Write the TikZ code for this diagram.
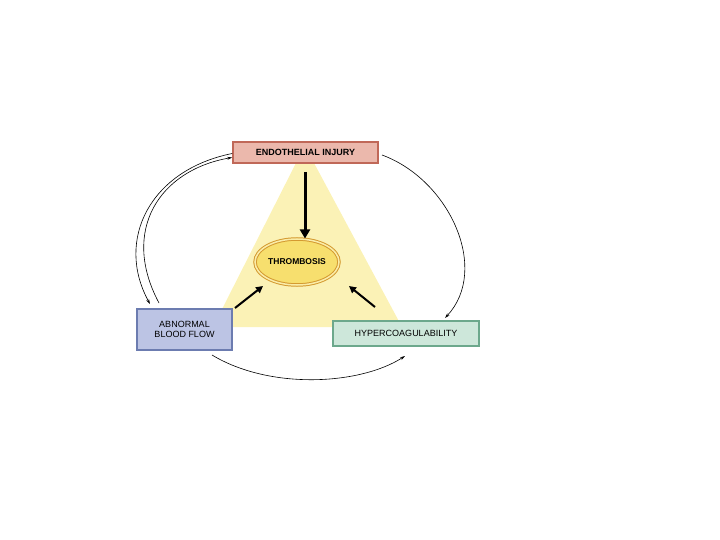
\documentclass[tikz,border=0pt]{standalone}
\usepackage{fontspec}
\setmainfont{Liberation Sans}
\usetikzlibrary{arrows.meta,shapes.geometric}
\definecolor{pinkf}{HTML}{EBB8AC}\definecolor{pinkd}{HTML}{C06858}
\definecolor{bluef}{HTML}{BCC4E4}\definecolor{blued}{HTML}{6C7CB0}
\definecolor{greenf}{HTML}{CDE7DA}\definecolor{greend}{HTML}{6CA88C}
\definecolor{tri}{HTML}{FBF2B6}\definecolor{ellf}{HTML}{F7DF6E}\definecolor{elld}{HTML}{D49A30}
\begin{document}
\begin{tikzpicture}[x=1pt,y=-1pt,
  box/.style={draw=#1,line width=1.6pt,inner sep=0pt,font=\fontsize{9}{10}\selectfont,align=center},
  curve/.style={line width=0.6pt,-{Stealth[length=5pt,width=3pt]}},
  fat/.style={line width=3pt,-{Triangle[length=9pt,width=10pt]}},
  mid/.style={line width=2pt,-{Triangle[length=7pt,width=7pt]}}]
\useasboundingbox (0,0) rectangle (720,540);
\fill[tri] (296,163) -- (314,163) -- (402,327) -- (213,327) -- cycle;
\node[box=pinkd,fill=pinkf,minimum width=145pt,minimum height=21pt,font=\fontsize{9}{10}\selectfont\bfseries] (ei) at (305.5,152.5) {ENDOTHELIAL INJURY};
\node[box=blued,fill=bluef,minimum width=95pt,minimum height=41pt] (ab) at (184.5,329.5) {ABNORMAL\\BLOOD FLOW};
\node[box=greend,fill=greenf,minimum width=146pt,minimum height=25pt] (hc) at (406,333.5) {HYPERCOAGULABILITY};
\node[ellipse,draw=elld,double=ellf!60!white,double distance=1.5pt,line width=1pt,fill=ellf,minimum width=84pt,minimum height=46pt,inner sep=0pt,font=\fontsize{8.5}{10}\selectfont\bfseries] (th) at (297,262) {THROMBOSIS};
\coordinate (a1) at (305,172);
\draw[fat] (a1) -- (th.north -| a1);
\coordinate (b1) at (235,308);\coordinate (b2) at (263,286);
\draw[mid] (b1) -- (b2);
\coordinate (c1) at (375,307);\coordinate (c2) at (349,286);
\draw[mid] (c1) -- (c2);
\coordinate (l1) at (159,303);\coordinate (l2) at (150,304);
\draw[curve] (l1) .. controls (120,230) and (160,170) .. ([yshift=-5pt]ei.west);
\draw[curve] ([yshift=-1pt]ei.west) .. controls (150,170) and (115,240) .. (l2);
\coordinate (r1) at (382,155);\coordinate (r2) at (445,318);
\draw[curve] (r1) .. controls (450,180) and (490,270) .. (r2);
\coordinate (d1) at (212,355);\coordinate (d2) at (405,356);
\draw[curve] (d1) .. controls (270,390) and (360,385) .. (d2);
\end{tikzpicture}
\end{document}
